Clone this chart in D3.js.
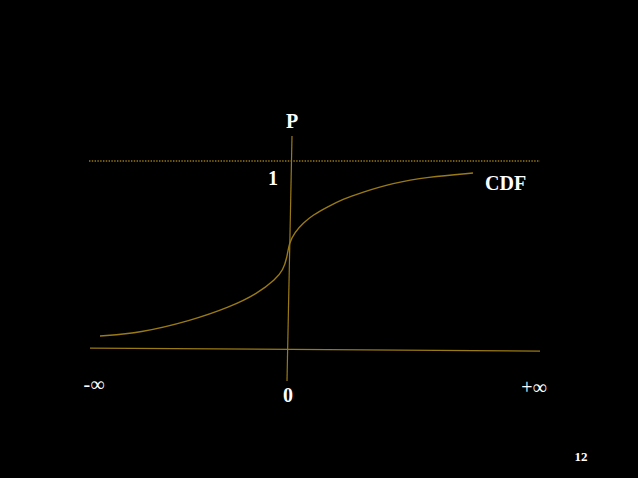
<!DOCTYPE html>
<html>
<head>
  <meta charset="utf-8" />
  <title>CDF sketch</title>
  <script src="https://d3js.org/d3.v7.min.js"></script>
  <style>
    body { margin: 0; background: #000; }
    svg { display: block; background: #000; }
    text { font-family: "Liberation Serif", "Times New Roman", serif; fill: #fff; }
  </style>
</head>
<body>
  <svg width="638" height="478"></svg>
  <script>
    // curve samples: x (arbitrary units, 0 at the P axis) and P
    const cdfX = [-9.4, -7.4, -4.9, -2.9, -1.55, -0.6, -0.25, -0.05, 0.05, 0.35, 0.75, 1.25, 1.95, 2.75, 3.6, 5.25, 6.95, 9.25];
    const cdfP = [0.069, 0.085, 0.149, 0.223, 0.293, 0.372, 0.420, 0.484, 0.564, 0.622, 0.670, 0.713, 0.755, 0.798, 0.830, 0.883, 0.915, 0.936];

    // hand-drawn axes (slightly tilted on the slide)
    const xAxisEnds = [[-9.9, 0.005], [12.6, -0.011]];
    const pAxisEnds = [[0.2, 1.133], [-0.05, -0.17]];
    const oneLine = [[-9.95, 1], [12.6, 1]];

    const xLabels = [{ t: "-\u221e", x: -9.7, bold: false }, { t: "0", x: 0, bold: true }, { t: "+\u221e", x: 12.3, bold: false }];

    const svg = d3.select("svg");
    const gold = "#9a7a14";

    const x = d3.scaleLinear().domain([-10, 12.6]).range([88, 540]);
    const y = d3.scaleLinear().domain([0, 1]).range([349, 161]);

    const line = d3.line().x(d => x(d[0])).y(d => y(d[1]));

    svg.append("path")
      .attr("d", line(oneLine))
      .attr("stroke", gold).attr("stroke-width", 1.3)
      .attr("stroke-dasharray", "1.4,1.4").attr("fill", "none");

    svg.append("path").attr("d", line(xAxisEnds))
      .attr("stroke", gold).attr("stroke-width", 1.2).attr("fill", "none");
    svg.append("path").attr("d", line(pAxisEnds))
      .attr("stroke", gold).attr("stroke-width", 1.2).attr("fill", "none");

    // the CDF curve, smoothed through the samples
    const pts = cdfX.map((v, i) => [v, cdfP[i]]);
    svg.append("path")
      .attr("d", d3.line().x(d => x(d[0])).y(d => y(d[1])).curve(d3.curveBasis)(pts))
      .attr("stroke", gold).attr("stroke-width", 1.4).attr("fill", "none");

    // labels
    svg.append("text").attr("x", 292).attr("y", 128).attr("text-anchor", "middle")
      .attr("font-size", 20).attr("font-weight", "bold").text("P");
    svg.append("text").attr("x", x(-0.75)).attr("y", y(1) + 24).attr("text-anchor", "middle")
      .attr("font-size", 20).attr("font-weight", "bold").text("1");
    svg.append("text").attr("x", 485).attr("y", 190)
      .attr("font-size", 20).attr("font-weight", "bold").text("CDF");

    svg.selectAll(".xl").data(xLabels).join("text")
      .attr("class", "xl")
      .attr("x", d => x(d.x))
      .attr("y", d => d.bold ? 402 : (d.x < 0 ? 391 : 394))
      .attr("text-anchor", "middle")
      .attr("font-size", 20)
      .attr("font-weight", d => d.bold ? "bold" : "normal")
      .text(d => d.t);

    svg.append("text").attr("x", 581).attr("y", 461).attr("text-anchor", "middle")
      .attr("font-size", 13).attr("font-weight", "bold").text("12");
  </script>
</body>
</html>
